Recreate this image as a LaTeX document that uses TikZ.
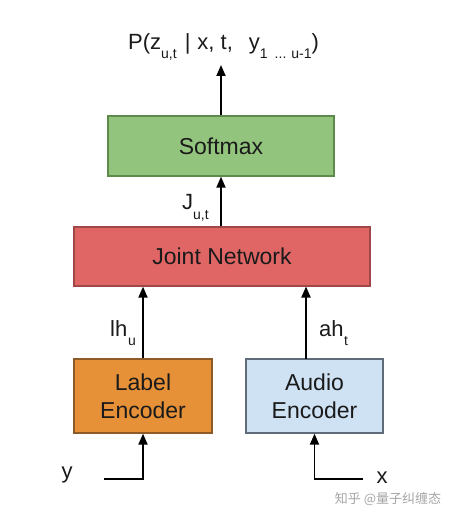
\documentclass[tikz,border=0pt]{standalone}
\usepackage{fontspec}
\setmainfont{Liberation Sans}
\newfontfamily\cjk{Noto Sans CJK SC}
\usetikzlibrary{arrows.meta}
\definecolor{softfill}{HTML}{93C47D}
\definecolor{softdraw}{HTML}{5E8A4C}
\definecolor{jointfill}{HTML}{E06666}
\definecolor{jointdraw}{HTML}{A04848}
\definecolor{labelfill}{HTML}{E69138}
\definecolor{labeldraw}{HTML}{8E5A28}
\definecolor{audiofill}{HTML}{CFE2F3}
\definecolor{audiodraw}{HTML}{5F6B78}
\definecolor{txt}{HTML}{1A1A1A}
\newcommand{\subtxt}[1]{\raisebox{-8.5pt}{\fontsize{14}{16}\selectfont #1}}
\begin{document}
\begin{tikzpicture}[x=1pt,y=-1pt,
  box/.style={draw, line width=1.3pt, inner sep=0pt, text=txt,
    font=\fontsize{23}{28}\selectfont, align=center},
  arr/.style={line width=1.8pt, -{Triangle[length=11pt,width=9pt]}},
  lbl/.style={text=txt, inner sep=0pt, font=\fontsize{22}{26}\selectfont},
  sub/.style={text=txt, inner sep=0pt, font=\fontsize{14}{16}\selectfont}]
\useasboundingbox (0,0) rectangle (453,518);
\fill[white] (0,0) rectangle (453,518);
% boxes
\node[box, fill=softfill, draw=softdraw, minimum width=226pt, minimum height=60pt] (soft) at (221,146) {Softmax};
\node[box, fill=jointfill, draw=jointdraw, minimum width=296pt, minimum height=59pt] (joint) at (222,256.5) {Joint Network};
\node[box, fill=labelfill, draw=labeldraw, minimum width=138pt, minimum height=74pt] (label) at (143,396) {Label\\Encoder};
\node[box, fill=audiofill, draw=audiodraw, minimum width=137pt, minimum height=74pt] (audio) at (314.5,396) {Audio\\Encoder};
% output label
\node[lbl, anchor=base west] (out) at (128,50) {P(z\subtxt{u,t}\hspace{8pt}|\hspace{7pt}x, t,\hspace{16pt}y\subtxt{1\hspace{7pt}...\hspace{5pt}u-1})};
\coordinate (outtip) at (221,65);
% connectors
\draw[arr] (soft.north) -- (outtip);
\draw[arr] (joint.north -| soft.north) -- (soft.south);
\draw[arr] (label.north) -- (label.north |- joint.south);
\draw[arr] (306,359) -- (306,286.5);
% input
\coordinate (yin) at (104,479);
\coordinate (xin) at (363,479);
\draw[arr] (yin) -| (label.south);
\draw[arr] (xin) -| (audio.south);
\node[lbl, anchor=base] (ylab) at (67,478) {y};
\node[lbl, anchor=base] (xlab) at (382,483) {x};
% arrow labels
\node[lbl, anchor=base west] (jl) at (182,210) {J};
\node[sub, anchor=base west] (jls) at (193,219) {u,t};
\node[lbl, anchor=base west] (lhl) at (110,336) {lh};
\node[sub, anchor=base west] (lhs) at (128,345) {u};
\node[lbl, anchor=base west] (ahl) at (319,336) {ah};
\node[sub, anchor=base west] (ahs) at (344,345) {t};
% watermark
\node[text=black!35, inner sep=0pt, font=\cjk\fontsize{13}{15}\selectfont, anchor=center] (wm) at (388,499) {知乎 @量子纠缠态};
\end{tikzpicture}
\end{document}
